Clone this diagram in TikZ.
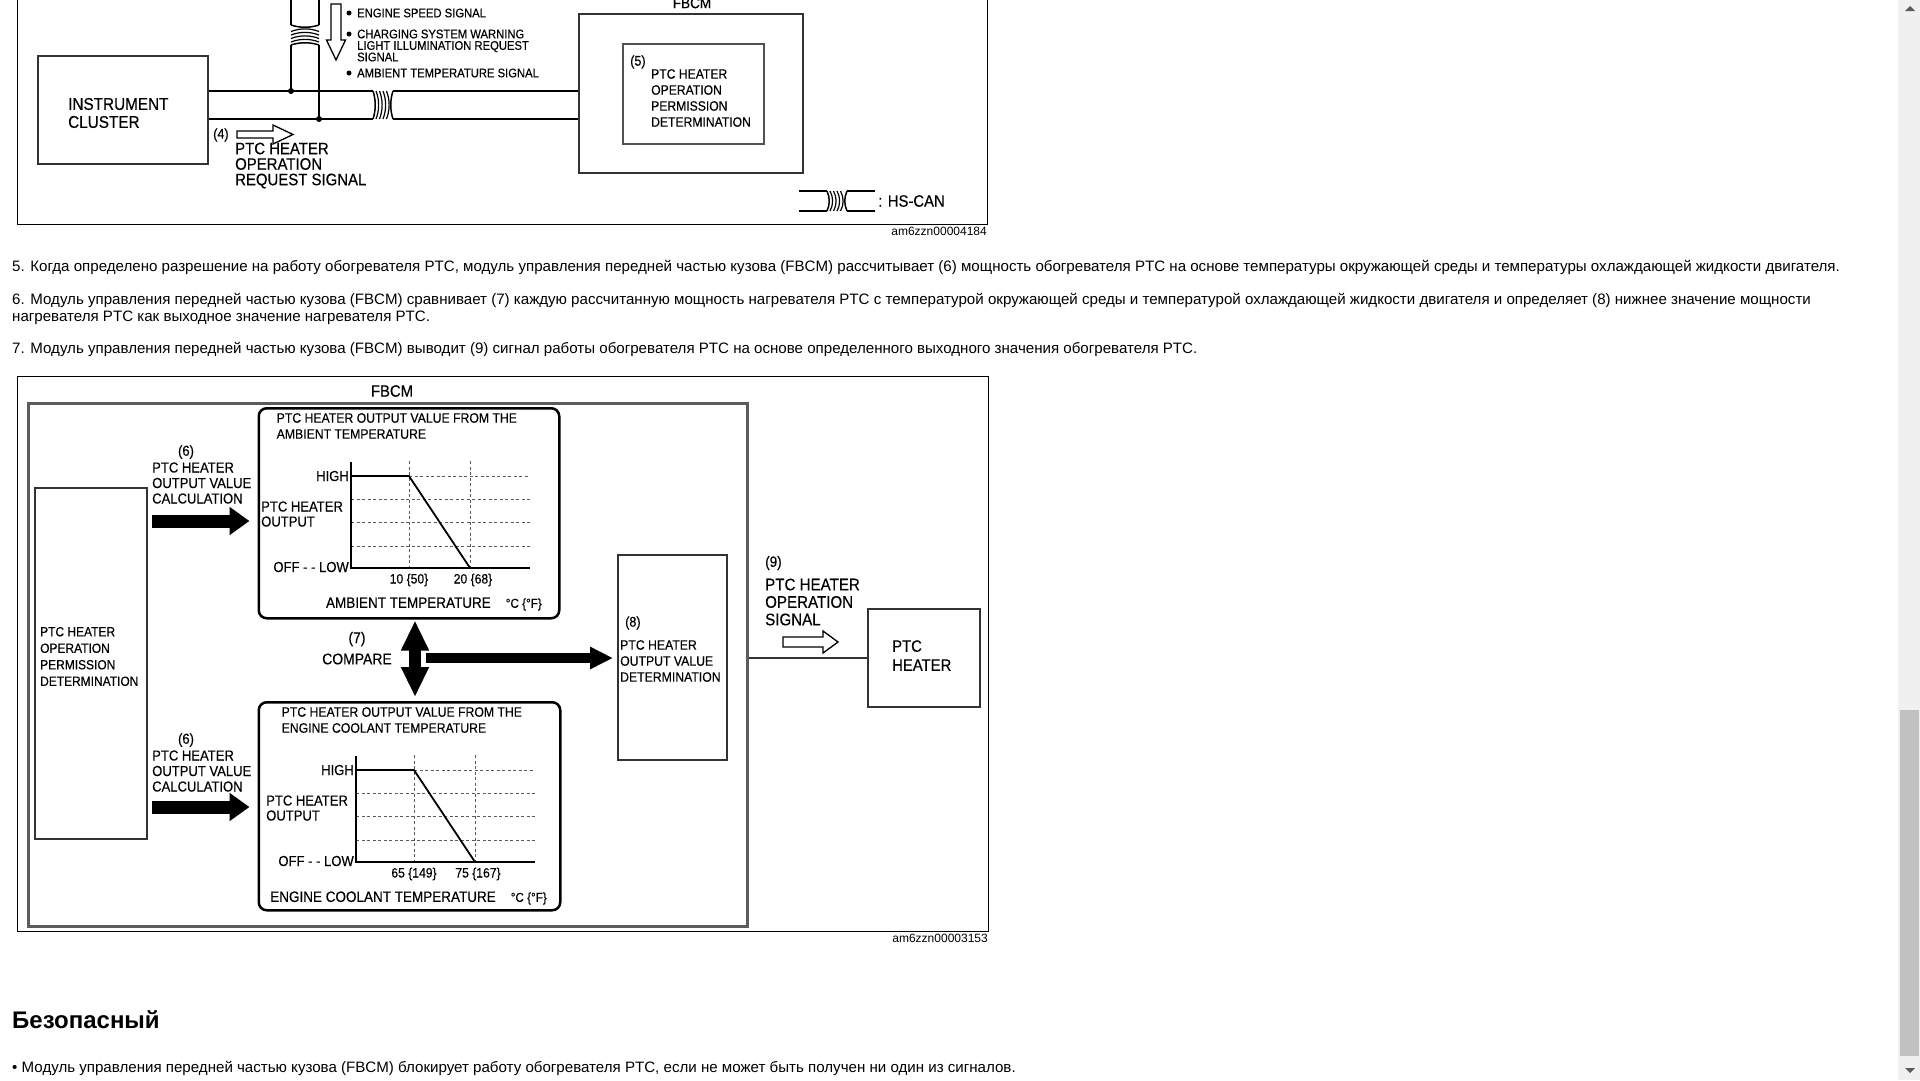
\documentclass[tikz,border=0pt]{standalone}
\usepackage{fontspec}
\setmainfont{Liberation Sans}
\newfontfamily\dgfont[FakeStretch=0.9, FakeBold=0.3]{Liberation Sans}
\usetikzlibrary{arrows.meta, positioning, calc}

\definecolor{trackgray}{HTML}{F0F0F0}
\definecolor{thumbgray}{HTML}{C1C1C1}
\definecolor{linegray}{HTML}{333333}
\definecolor{dashgray}{HTML}{5A5A5A}

% diagram lettering: size and line distance
\newcommand{\dg}[2]{\dgfont\fontsize{#1}{#2}\selectfont}

\begin{document}
\begin{tikzpicture}[x=1pt, y=-1pt,
    pageframe/.style={draw=black, line width=1pt},
    blk/.style={draw=linegray, line width=2pt, anchor=north west, inner sep=0pt},
    chart/.style={blk, draw=black, line width=2.5pt, rounded corners=8pt},
    lbl/.style={inner sep=0pt, align=left, anchor=west},
    para/.style={inner sep=0pt, anchor=base west, font=\fontsize{15.1}{17}\selectfont},
    wire/.style={draw=black, line width=2pt},
    dashline/.style={draw=dashgray, line width=1pt, dash pattern=on 3pt off 2.5pt},
    fatarr/.style={line width=13pt, -{Triangle[length=20pt, width=27pt]}},
    hollow/.style={draw=black, line width=1.3pt, fill=white},
    twist/.pic={
      \draw[line width=1.5pt] (-10,-14) .. controls (-7,-5) and (-7,5) .. (-10,14);
      \draw[line width=1.5pt] (10,-14) .. controls (7,-5) and (7,5) .. (10,14);
      \foreach \k in {-5,-1.5,2,5.5}
        \draw[line width=1.2pt] (\k-2,-14) .. controls (\k+1.5,-5) and (\k+1.5,5) .. (\k-2,14);
      \coordinate (-ul) at (-10,-14);
      \coordinate (-ll) at (-10,14);
      \coordinate (-ur) at (10,-14);
      \coordinate (-lr) at (10,14);
    }
  ]
  \useasboundingbox (0,0) rectangle (1920,1080);
  \clip (0,0) rectangle (1920,1080);
  \fill[white] (0,0) rectangle (1920,1080);

  % scroll bar
  \fill[trackgray] (1898,0) rectangle (1920,1080);
  \fill[thumbgray] (1900,710) rectangle (1919,1056);
  \fill[black!65] (1905,11) -- (1915,11) -- (1910,6) -- cycle;
  \fill[black!65] (1905,1068) -- (1915,1068) -- (1910,1073) -- cycle;

  %%% first figure (CAN wiring)
  \draw[pageframe] (17,-5) rectangle (987,224);
  \node[blk, minimum width=170pt, minimum height=108pt] (ic) at (37,55) {};
  \node[lbl, font=\dg{17}{18}] (iclbl) at ([xshift=31pt,yshift=-3pt]ic.west) {INSTRUMENT\\CLUSTER};

  \node[font=\dg{15}{15}, inner sep=0pt] (fbcmAlbl) at (692,3) {FBCM};
  \node[blk, minimum width=224pt, minimum height=159pt] (fbcmA) at (578,13) {};
  \node[blk, draw=linegray!85, line width=1.5pt, minimum width=141pt, minimum height=100pt] (permA) at (622,43) {};
  \node[lbl, font=\dg{14}{15}] at (630,62) {(5)};
  \node[lbl, font=\dg{13.5}{16}] (permAlbl) at (651,98) {PTC HEATER\\OPERATION\\PERMISSION\\DETERMINATION};

  \coordinate (busU) at (0,91);
  \coordinate (busL) at (0,119);
  \pic (bus) at (383,105) {twist};
  \draw[wire] (ic.east |- busU) -- (bus-ul);
  \draw[wire] (ic.east |- busL) -- (bus-ll);
  \draw[wire] (bus-ur) -- (fbcmA.west |- busU);
  \draw[wire] (bus-lr) -- (fbcmA.west |- busL);

  \pic[rotate=90] (vp) at (305,35) {twist};
  \draw[wire] (vp-ur) -- (vp-ur |- 0,-5);
  \draw[wire] (vp-lr) -- (vp-lr |- 0,-5);
  \draw[wire] (vp-ul) -- (vp-ul |- busU);
  \draw[wire] (vp-ll) -- (vp-ll |- busL);
  \fill (vp-ul |- busU) circle (3pt);
  \fill (vp-ll |- busL) circle (3pt);

  % signals sent down
  \draw[hollow] (331,4) -- (341,4) -- (341,40) -- (345.5,40) -- (336,60) -- (326.5,40) -- (331,40) -- cycle;
  \foreach \by in {13,34,73}
    \fill (349,\by) circle (2.5pt);
  \node[lbl, font=\dg{12.5}{11.5}] (sigA) at (357,13) {ENGINE SPEED SIGNAL};
  \node[lbl, font=\dg{12.5}{11.5}] (sigB) at (357,45.5) {CHARGING SYSTEM WARNING\\LIGHT ILLUMINATION REQUEST\\SIGNAL};
  \node[lbl, font=\dg{12.5}{11.5}] (sigC) at (357,73) {AMBIENT TEMPERATURE SIGNAL};

  % (4) request
  \node[lbl, font=\dg{14}{15}] at (213,135) {(4)};
  \draw[hollow] (237,131) -- (273,131) -- (273,125) -- (293,134.5) -- (273,144) -- (273,138) -- (237,138) -- cycle;
  \node[lbl, font=\dg{16.6}{15.5}] (reqlbl) at (235,165.5) {PTC HEATER\\OPERATION\\REQUEST SIGNAL};

  % legend
  \pic[yscale=0.714] (hs) at (837,201) {twist};
  \draw[wire] (hs-ul) -- +(-28,0);
  \draw[wire] (hs-ll) -- +(-28,0);
  \draw[wire] (hs-ur) -- +(28,0);
  \draw[wire] (hs-lr) -- +(28,0);
  \node[lbl, font=\dg{16.5}{16}] (hslbl) at (878,201) {: HS-CAN};
  \node[inner sep=0pt, anchor=east, font=\fontsize{12}{12}\selectfont] (capA) at (987,231) {am6zzn00004184};

  %%% text
  \node[para] (p5) at (12,271) {5. Когда определено разрешение на работу обогревателя PTC, модуль управления передней частью кузова (FBCM) рассчитывает (6) мощность обогревателя PTC на основе температуры окружающей среды и температуры охлаждающей жидкости двигателя.};
  \node[para] (p6a) at (12,304) {6. Модуль управления передней частью кузова (FBCM) сравнивает (7) каждую рассчитанную мощность нагревателя PTC с температурой окружающей среды и температурой охлаждающей жидкости двигателя и определяет (8) нижнее значение мощности};
  \node[para] (p6b) at (12,321) {нагревателя PTC как выходное значение нагревателя PTC.};
  \node[para] (p7) at (12,353) {7. Модуль управления передней частью кузова (FBCM) выводит (9) сигнал работы обогревателя PTC на основе определенного выходного значения обогревателя PTC.};

  %%% second figure (output calculation)
  \draw[pageframe] (17,376) rectangle (988,931);
  \node[font=\dg{16.5}{17}, inner sep=0pt] (fbcmBlbl) at (392,391) {FBCM};
  \node[blk, draw=linegray!80, line width=2.5pt, minimum width=719pt, minimum height=523pt] (fbcmB) at (27,402) {};
  \node[blk, minimum width=112pt, minimum height=351pt] (perm) at (34,487) {};
  \node[lbl, font=\dg{13.3}{16.5}] (permlbl) at (40,656.5) {PTC HEATER\\OPERATION\\PERMISSION\\DETERMINATION};

  \node[chart, minimum width=300.5pt, minimum height=210pt] (ambbox) at (257.5,407) {};
  \node[chart, minimum width=301.5pt, minimum height=208pt] (ectbox) at (257.5,701) {};

  \foreach \ox/\oy/\src/\ta/\tb in {351/568/AMBIENT TEMPERATURE/{10 \{50\}}/{20 \{68\}},
                                   356/862/ENGINE COOLANT TEMPERATURE/{65 \{149\}}/{75 \{167\}}}{
    \begin{scope}[shift={(\ox,\oy)}]
      \node[lbl, font=\dg{13.6}{16}] at (-74.5,-142) {PTC HEATER OUTPUT VALUE FROM THE\\\src};
      \foreach \h in {-69,-46,-22}
        \draw[dashline] (0,\h) -- (179,\h);
      \draw[dashline] (58,-92) -- (179,-92);
      \foreach \v in {58,119}
        \draw[dashline] (\v,-107) -- (\v,0);
      \draw[line width=1.3pt] (0,-106) -- (0,0) -- (179,0);
      \draw[line width=1.8pt] (0,-92) -- (58,-92) -- (119,0);
      \node[lbl, anchor=east, font=\dg{14.5}{15}] at (-2,-92) {HIGH};
      \node[lbl, anchor=east, font=\dg{14.5}{15}] at (-2,-1) {OFF - - LOW};
      \node[lbl, font=\dg{14.5}{15}] at (-90,-54) {PTC HEATER\\OUTPUT};
      \node[font=\dg{13.5}{14}, inner sep=0pt] at (58,12) {\ta};
      \node[font=\dg{13.5}{14}, inner sep=0pt] at (122,12) {\tb};
      \node[lbl, anchor=east, font=\dg{15}{16}] at (191,36) {\src\quad{\fontsize{13}{13}\selectfont °C \{°F\}}};
    \end{scope}
  }

  % (6) calculations
  \node[font=\dg{14.5}{15.5}, inner sep=0pt] at (186,452) {(6)};
  \node[lbl, font=\dg{14.5}{15.5}] (calcU) at (152,483) {PTC HEATER\\OUTPUT VALUE\\CALCULATION};
  \node[font=\dg{14.5}{15.5}, inner sep=0pt] at (186,740) {(6)};
  \node[lbl, font=\dg{14.5}{15.5}] (calcL) at (152,771) {PTC HEATER\\OUTPUT VALUE\\CALCULATION};
  \coordinate (rowU) at (0,521);
  \coordinate (rowL) at (0,807);
  \draw[fatarr] (calcU.west |- rowU) -- ($(ambbox.west |- rowU)+(-8,0)$);
  \draw[fatarr] (calcL.west |- rowL) -- ($(ectbox.west |- rowL)+(-8,0)$);

  % (7) compare
  \node[font=\dg{15.5}{16}, inner sep=0pt] (cmpn) at (357,639) {(7)};
  \node[font=\dg{15.5}{16}, inner sep=0pt] (cmp) at (357,659) {COMPARE};
  \coordinate (cmpx) at (415,0);
  \draw[line width=12pt, {Triangle[length=30pt,width=26pt]}-{Triangle[length=30pt,width=26pt]}]
    ($(ambbox.south -| cmpx)+(0,1)$) -- ($(ectbox.north -| cmpx)+(0,-4)$);

  % (8) determination
  \node[blk, minimum width=109pt, minimum height=205pt] (det) at (617,554) {};
  \node[lbl, font=\dg{14}{15}] at (625,623) {(8)};
  \node[lbl, font=\dg{13.6}{16}] (detlbl) at (620,661) {PTC HEATER\\OUTPUT VALUE\\DETERMINATION};
  \draw[line width=10pt, -{Triangle[length=23pt,width=21pt]}]
    ($(cmpx |- cmp)+(11,-1)$) -- ($(det.west |- cmp)+(-4,-1)$);

  % (9) output
  \node[blk, minimum width=112pt, minimum height=98pt] (htr) at (867,608) {};
  \node[lbl, font=\dg{16.5}{19}] (htrlbl) at (892,655.5) {PTC\\HEATER};
  \draw[line width=1.3pt, draw=linegray] (htr.west) -- (htr.west -| fbcmB.east);
  \node[lbl, font=\dg{15}{16}] at (765,563) {(9)};
  \node[lbl, font=\dg{16.8}{17.5}] (opsig) at (765,602) {PTC HEATER\\OPERATION\\SIGNAL};
  \draw[hollow] (783,637) -- (823,637) -- (823,631) -- (838,642) -- (823,653) -- (823,647) -- (783,647) -- cycle;
  \node[inner sep=0pt, anchor=east, font=\fontsize{12}{12}\selectfont] (capB) at (988,938) {am6zzn00003153};

  %%% fail-safe
  \node[inner sep=0pt, anchor=base west, font=\fontsize{24}{26}\selectfont\bfseries] (safe) at (12,1028.6) {Безопасный};
  \node[para] (pb) at (12,1072) {• Модуль управления передней частью кузова (FBCM) блокирует работу обогревателя PTC, если не может быть получен ни один из сигналов.};
\end{tikzpicture}
\end{document}
